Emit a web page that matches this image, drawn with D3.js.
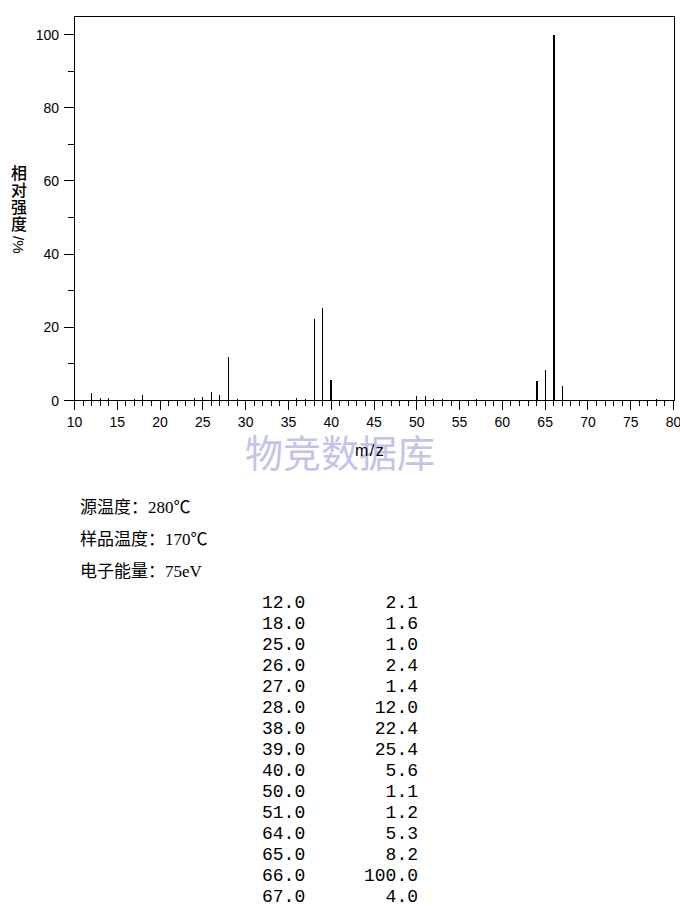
<!DOCTYPE html>
<html>
<head>
<meta charset="utf-8">
<script src="https://cdn.jsdelivr.net/npm/d3@7"></script>
<style>
  html, body { margin: 0; padding: 0; background: #fff; }
  svg { display: block; }
</style>
</head>
<body>
<svg id="chart" width="680" height="907"></svg>
<script>
// ---- data ----
const tableMass = [12, 18, 25, 26, 27, 28, 38, 39, 40, 50, 51, 64, 65, 66, 67];
const tableIntensity = [2.1, 1.6, 1.0, 2.4, 1.4, 12.0, 22.4, 25.4, 5.6, 1.1, 1.2, 5.3, 8.2, 100.0, 4.0];
// small peaks visible in the spectrum but not listed in the table
const minorMass = [13, 14, 17, 24, 29, 36, 37, 52, 53, 57, 78];
const minorIntensity = [0.8, 0.8, 0.4, 0.8, 0.3, 0.6, 0.4, 0.3, 0.3, 0.3, 0.3];
const xTicks = [10, 15, 20, 25, 30, 35, 40, 45, 50, 55, 60, 65, 70, 75, 80];
const yTicks = [0, 20, 40, 60, 80, 100];
const infoLines = ["源温度：280℃", "样品温度：170℃", "电子能量：75eV"];
const yLabelChars = ["相", "对", "强", "度"];
const yLabelUnit = "/%";
const xLabel = "m/z";
const watermark = "物竞数据库";

// ---- drawing ----
const svg = d3.select("#chart");
const x = d3.scaleLinear().domain([10, 80]).range([74.5, 673.5]);
const y = d3.scaleLinear().domain([0, 100]).range([400.5, 34.5]);
const boldMasses = [40, 64, 66];

const peaks = tableMass.map((m, i) => ({ m, v: tableIntensity[i] }))
  .concat(minorMass.map((m, i) => ({ m, v: minorIntensity[i] })));

// watermark (behind everything)
svg.append("text")
  .attr("x", 340).attr("y", 467)
  .attr("text-anchor", "middle")
  .attr("font-family", "'Noto Sans CJK SC'")
  .attr("font-size", 38)
  .attr("fill", "#c3c3ea")
  .text(watermark);

const g = svg.append("g");

// frame
g.append("path")
  .attr("d", `M${x(10)},${y(0)} V16.5 H${x(80) + 1} V${y(0)}`)
  .attr("fill", "none").attr("stroke", "#000").attr("stroke-width", 1)
  .attr("shape-rendering", "crispEdges");

// baseline (x axis line) extending to 0 tick
g.append("line")
  .attr("x1", 64).attr("x2", x(80) + 1)
  .attr("y1", y(0)).attr("y2", y(0))
  .attr("stroke", "#000").attr("shape-rendering", "crispEdges");

// x ticks: minor each unit, major each 5
const xMinor = d3.range(10, 81, 1);
g.selectAll(".xt").data(xMinor).enter().append("line")
  .attr("x1", d => Math.round(x(d) - 0.5) + 0.5)
  .attr("x2", d => Math.round(x(d) - 0.5) + 0.5)
  .attr("y1", y(0))
  .attr("y2", d => y(0) + (d % 5 === 0 ? 9 : 5))
  .attr("stroke", "#000").attr("shape-rendering", "crispEdges");

g.selectAll(".xl").data(xTicks).enter().append("text")
  .attr("x", d => x(d)).attr("y", 427)
  .attr("text-anchor", "middle")
  .attr("font-family", "'Liberation Sans', Arial, sans-serif")
  .attr("font-size", 14)
  .attr("fill", "#000")
  .text(d => d);

// y ticks
const yAll = d3.range(0, 101, 10);
g.selectAll(".yt").data(yAll).enter().append("line")
  .attr("x1", d => (d % 20 === 0 ? 64 : 68))
  .attr("x2", x(10))
  .attr("y1", d => Math.round(y(d) - 0.5) + 0.5)
  .attr("y2", d => Math.round(y(d) - 0.5) + 0.5)
  .attr("stroke", "#000").attr("shape-rendering", "crispEdges");

g.selectAll(".yl").data(yTicks).enter().append("text")
  .attr("x", 59).attr("y", d => y(d) + 5)
  .attr("text-anchor", "end")
  .attr("font-family", "'Liberation Sans', Arial, sans-serif")
  .attr("font-size", 14)
  .attr("fill", "#000")
  .text(d => d);

// peaks
g.selectAll(".pk").data(peaks).enter().append("line")
  .attr("x1", d => boldMasses.includes(d.m) ? Math.round(x(d.m)) : Math.round(x(d.m) - 0.5) + 0.5)
  .attr("x2", d => boldMasses.includes(d.m) ? Math.round(x(d.m)) : Math.round(x(d.m) - 0.5) + 0.5)
  .attr("y1", y(0))
  .attr("y2", d => y(d.v))
  .attr("stroke", "#000")
  .attr("stroke-width", d => boldMasses.includes(d.m) ? 2 : 1)
  .attr("shape-rendering", "crispEdges");

// y label (stacked characters)
const yl = svg.append("g")
  .attr("font-family", "'Noto Sans CJK SC'")
  .attr("font-size", 16)
  .attr("font-weight", 500)
  .attr("fill", "#000");
yl.selectAll("text").data(yLabelChars).enter().append("text")
  .attr("x", 19).attr("y", (d, i) => 179 + i * 17)
  .attr("text-anchor", "middle")
  .text(d => d);
yl.append("text")
  .attr("transform", "translate(13,236) rotate(90)")
  .attr("font-family", "'Liberation Sans', Arial, sans-serif")
  .attr("font-size", 15)
  .attr("font-weight", 400)
  .text(yLabelUnit);

// x label
svg.append("text")
  .attr("x", 355).attr("y", 456)
  .attr("font-family", "'Liberation Sans', Arial, sans-serif")
  .attr("font-size", 16)
  .attr("letter-spacing", 1.5)
  .attr("fill", "#000")
  .text(xLabel);

// info lines
svg.selectAll(".info").data(infoLines).enter().append("text")
  .attr("x", 80).attr("y", (d, i) => 513 + i * 32)
  .attr("font-family", "'Liberation Serif', 'Noto Sans CJK SC', serif")
  .attr("font-size", 17)
  .attr("fill", "#000")
  .text(d => d);

// peak table
const tbl = svg.append("g")
  .attr("font-family", "'Liberation Mono', 'Courier New', monospace")
  .attr("font-size", 18)
  .attr("fill", "#000");
tbl.selectAll(".tm").data(tableMass).enter().append("text")
  .attr("x", 262).attr("y", (d, i) => 608 + i * 21)
  .text(d => d.toFixed(1));
tbl.selectAll(".ti").data(tableIntensity).enter().append("text")
  .attr("x", 418).attr("y", (d, i) => 608 + i * 21)
  .attr("text-anchor", "end")
  .text(d => d.toFixed(1));
</script>
</body>
</html>
